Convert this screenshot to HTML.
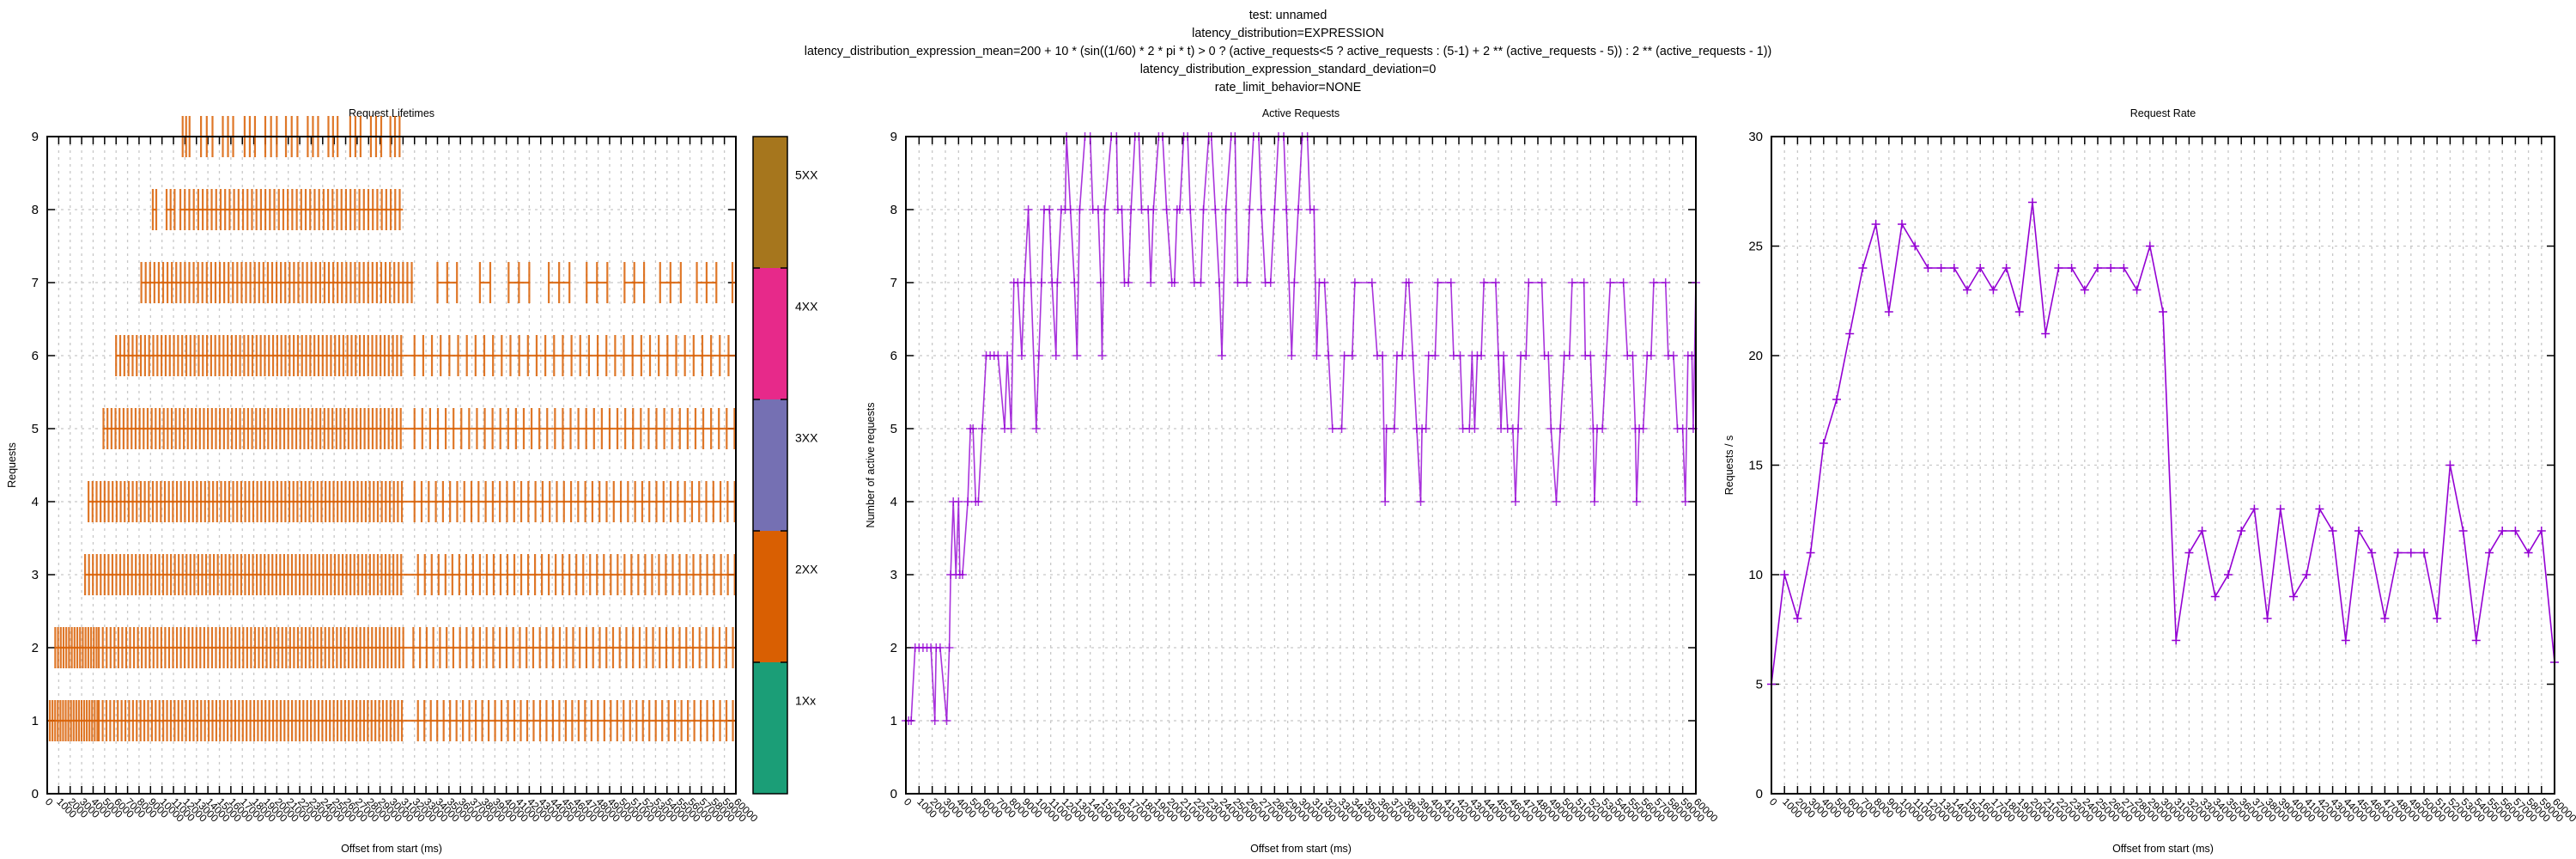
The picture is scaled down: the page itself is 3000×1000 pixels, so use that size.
<!DOCTYPE html>
<html><head><meta charset="utf-8"><style>
html,body{margin:0;padding:0;background:#fff;}
svg{display:block;font-family:"Liberation Sans",sans-serif;}
</style></head><body>
<svg id="root" width="3000" height="1000" viewBox="0 0 3000 1000" xmlns="http://www.w3.org/2000/svg">
<g font-size="14.3" text-anchor="middle" fill="#000">
<text x="1500" y="22">test: unnamed</text>
<text x="1500" y="43">latency_distribution=EXPRESSION</text>
<text x="1500" y="64">latency_distribution_expression_mean=200 + 10 * (sin((1/60) * 2 * pi * t) &gt; 0 ? (active_requests&lt;5 ? active_requests : (5-1) + 2 ** (active_requests - 5)) : 2 ** (active_requests - 1))</text>
<text x="1500" y="85">latency_distribution_expression_standard_deviation=0</text>
<text x="1500" y="106">rate_limit_behavior=NONE</text>
</g>
</svg>
<script>
// ---------- DATA ----------
// Request lifetimes: per row runs [startMs, endMs, latencyMs] (latency 0 = line only)
const lifetimeRows = [1,2,3,4,5,6,7,8,9];
const lifetimeRuns1 = [[0,4500,230],[4500,31000,330],[31000,32300,0],[32300,60000,560]];
const lifetimeRuns2 = [[700,4500,240],[4500,31200,340],[31200,31900,0],[31900,60000,580]];
const lifetimeRuns3 = [[3300,31000,340],[31000,32300,0],[32300,60000,600]];
const lifetimeRuns4 = [[3600,31000,350],[31000,32000,0],[32000,60000,620]];
const lifetimeRuns5 = [[4900,31000,350],[31000,32000,0],[32000,60000,680]];
const lifetimeRuns6 = [[6000,31000,360],[31000,32000,0],[32000,60000,760]];
const lifetimeRuns7 = [[8200,31900,380],[34000,35700,850],[37700,38600,900],[40200,42000,900],[43700,45500,900],[47000,48800,900],[50300,52000,850],[53400,55200,900],[56600,58300,850],[59700,60000,300]];
const lifetimeRuns8 = [[9200,9500,300],[10400,11100,350],[11600,31000,390]];
const lifetimeRuns9 = [[11800,12400,300],[13400,14400,500],[15300,16200,450],[17200,18100,450],[19000,20000,500],[20800,21800,500],[22700,23600,450],[24500,25300,400],[26400,27300,450],[28200,29100,450],[29900,30700,400]];
const lifetimeRunsAll = [lifetimeRuns1,lifetimeRuns2,lifetimeRuns3,lifetimeRuns4,lifetimeRuns5,lifetimeRuns6,lifetimeRuns7,lifetimeRuns8,lifetimeRuns9];
const statusLabels = ["1Xx","2XX","3XX","4XX","5XX"];
const statusColors = ["#1b9e77","#d95f02","#7570b3","#e7298a","#a6761d"];

// Active requests
const activeTimes = [0,200,400,700,1000,1300,1600,1900,2200,2300,2600,3100,3300,3400,3600,3800,4000,4100,4300,4700,4900,5100,5300,5500,5800,6100,6400,6700,7000,7500,7700,8000,8200,8500,8800,9000,9300,9500,9900,10100,10300,10500,10900,11100,11400,11500,11800,12100,12200,12500,12800,13000,13200,13600,14000,14200,14600,14800,14900,15100,15600,16000,16100,16400,16600,16900,17100,17400,17700,17900,18400,18600,18800,19200,19500,19800,20200,20400,20600,20800,21100,21400,21600,21900,22400,22600,23000,23200,23500,23800,24000,24300,24700,25000,25200,25900,26100,26400,26800,27000,27300,27700,28000,28300,28700,28900,29300,29500,29800,30100,30500,30700,31000,31200,31400,31800,32100,32400,33100,33300,33900,34100,35400,35800,36200,36400,36500,37100,37300,37700,38000,38200,38500,38800,39100,39200,39500,39700,40200,40400,41400,41600,42100,42300,42800,43000,43200,43400,43700,43900,44800,45000,45200,45400,45700,46100,46300,46500,46700,47100,47300,48300,48500,48800,49000,49400,49700,50000,50400,50600,51500,51600,52000,52200,52300,52500,52900,53200,53500,54500,54800,55200,55400,55500,55700,56000,56300,56600,56800,57700,57900,58300,58600,59000,59200,59400,59700,59800,60000];
const activeValues = [1,1,1,2,2,2,2,2,1,2,2,1,2,3,4,3,4,3,3,4,5,5,4,4,5,6,6,6,6,5,6,5,7,7,6,7,8,7,5,6,7,8,8,7,6,7,8,8,9,8,7,6,8,9,9,8,8,7,6,8,9,9,8,8,7,7,8,9,9,8,8,7,8,9,9,8,7,7,8,8,9,9,8,7,7,8,9,9,8,7,6,8,9,9,7,7,8,9,9,8,7,7,8,9,9,8,6,7,8,9,9,8,8,6,7,7,6,5,5,6,6,7,7,6,6,4,5,5,6,6,7,7,6,5,4,5,5,6,6,7,7,6,6,5,5,6,5,6,6,7,7,6,5,6,5,5,4,5,6,6,7,7,6,6,5,4,5,6,6,7,7,6,6,5,4,5,5,6,7,7,6,6,5,4,5,5,6,6,7,7,6,6,5,5,4,6,6,5,7];

// Request rate (per second)
const rateTimes = [0,1000,2000,3000,4000,5000,6000,7000,8000,9000,10000,11000,12000,13000,14000,15000,16000,17000,18000,19000,20000,21000,22000,23000,24000,25000,26000,27000,28000,29000,30000,31000,32000,33000,34000,35000,36000,37000,38000,39000,40000,41000,42000,43000,44000,45000,46000,47000,48000,49000,50000,51000,52000,53000,54000,55000,56000,57000,58000,59000,60000];
const rateValues = [5,10,8,11,16,18,21,24,26,22,26,25,24,24,24,23,24,23,24,22,27,21,24,24,23,24,24,24,23,25,22,7,11,12,9,10,12,13,8,13,9,10,13,12,7,12,11,8,11,11,11,8,15,12,7,11,12,12,11,12,6];

const xTicks = []; for (let t=0;t<=60000;t+=1000) xTicks.push(t);

// ---------- DRAW ----------
const NS="http://www.w3.org/2000/svg";
const root=document.getElementById('root');
function el(tag,attrs,parent){const e=document.createElementNS(NS,tag);for(const k in attrs)e.setAttribute(k,attrs[k]);(parent||root).appendChild(e);return e;}
const TOP=159,BOT=924;

function frame(x0,x1,ymax,ystep,name,title,ylab,ylabX){
  const g=el('g',{});
  
  
  const sx=t=>x0+(t/60000)*(x1-x0);
  const sy=v=>BOT-(v/ymax)*(BOT-TOP);
  const grid=el('g',{stroke:'#c8c8c8','stroke-width':1.3,'stroke-dasharray':'3,5'},g);
  
  
  xTicks.forEach(t=>{if(t>0&&t<60000)el('line',{x1:sx(t),x2:sx(t),y1:TOP,y2:BOT},grid);});
  for(let v=ystep;v<ymax;v+=ystep)el('line',{x1:x0,x2:x1,y1:sy(v),y2:sy(v)},grid);
  const ticks=el('g',{stroke:'#000','stroke-width':1.5},g);
  
  
  xTicks.forEach(t=>{el('line',{x1:sx(t),x2:sx(t),y1:BOT,y2:BOT-9},ticks);el('line',{x1:sx(t),x2:sx(t),y1:TOP,y2:TOP+9},ticks);});
  for(let v=0;v<=ymax;v+=ystep){el('line',{x1:x0,x2:x0+9,y1:sy(v),y2:sy(v)},ticks);el('line',{x1:x1,x2:x1-9,y1:sy(v),y2:sy(v)},ticks);}
  const yl=el('g',{'font-size':15,'text-anchor':'end',fill:'#000'},g);
  
  
  for(let v=0;v<=ymax;v+=ystep){const t=el('text',{x:x0-10,y:sy(v)+5},yl);t.textContent=v;}
  const xl=el('g',{'font-size':12,fill:'#000'},g);
  
  
  xTicks.forEach(t=>{const tx=el('text',{transform:`translate(${sx(t)-3},${BOT+10}) rotate(45)`},xl);tx.textContent=t;});
  const tt=el('text',{x:(x0+x1)/2,y:136,'font-size':12.5,'text-anchor':'middle'},g);
  
  
  tt.textContent=title;
  const xt=el('text',{x:(x0+x1)/2,y:992,'font-size':12.5,'text-anchor':'middle'},g);
  
  
  xt.textContent='Offset from start (ms)';
  const yt=el('text',{transform:`translate(${ylabX},${(TOP+BOT)/2}) rotate(-90)`,'font-size':12.5,'text-anchor':'middle'},g);
  
  
  yt.textContent=ylab;
  return {g,sx,sy,x0,x1};
}
function border(f){const b=el('rect',{x:f.x0,y:TOP,width:f.x1-f.x0,height:BOT-TOP,fill:'none',stroke:'#000','stroke-width':2},f.g);}

// Left chart
const L=frame(55,857,9,1,'request-lifetimes-chart','Request Lifetimes','Requests',18);
const lg=el('g',{stroke:'#d95f02','stroke-width':2.2,'stroke-opacity':0.85},L.g);


lifetimeRows.forEach((row,i)=>{
  const rg=el('g',{},lg);
  
  
  const y=L.sy(row);
  lifetimeRunsAll[i].forEach(r=>{
    el('line',{x1:L.sx(r[0]),x2:L.sx(r[1]),y1:y,y2:y},rg);
    if(r[2]>0){for(let t=r[0];t<=r[1]+1;t+=r[2]){el('line',{x1:L.sx(t),x2:L.sx(t),y1:y-24,y2:y+24},rg);}}
  });
});
border(L);

// Colorbar
const cb=el('g',{});


const segH=(BOT-TOP)/statusLabels.length;
statusLabels.forEach((lab,i)=>{
  const y0=BOT-(i+1)*segH;
  const r=el('rect',{x:877,y:y0,width:40,height:segH,fill:statusColors[i]},cb);
  
  
  const t=el('text',{x:926,y:y0+segH*0.29+5,'font-size':14},cb);
  
  
  t.textContent=lab;
  if(i>0){el('line',{x1:877,x2:885,y1:y0+segH,y2:y0+segH,stroke:'#000','stroke-width':1.5},cb);el('line',{x1:909,x2:917,y1:y0+segH,y2:y0+segH,stroke:'#000','stroke-width':1.5},cb);}
});
el('rect',{x:877,y:TOP,width:40,height:BOT-TOP,fill:'none',stroke:'#000','stroke-width':1.5},cb);

function series(f,times,vals,name,op){
  const sg=el('g',{},f.g);
  
  
  const pts=times.map((t,i)=>f.sx(t)+','+f.sy(vals[i])).join(' ');
  el('polyline',{points:pts,fill:'none',stroke:'#9400d3','stroke-width':1.6,'stroke-opacity':op},sg);
  times.forEach((t,i)=>{const x=f.sx(t),y=f.sy(vals[i]);
    const p=el('path',{d:`M${x-5},${y}H${x+5}M${x},${y-5}V${y+5}`,stroke:'#9400d3','stroke-width':1.5,'stroke-opacity':op},sg);
    
    
  });
}
// Middle chart
const M=frame(1055,1975,9,1,'active-requests-chart','Active Requests','Number of active requests',1018);
series(M,activeTimes,activeValues,'active-requests-series',0.8);
border(M);
// Right chart
const R=frame(2063,2975,30,5,'request-rate-chart','Request Rate','Requests / s',2018);
series(R,rateTimes,rateValues,'request-rate-series',1);
border(R);
</script>
</body></html>
